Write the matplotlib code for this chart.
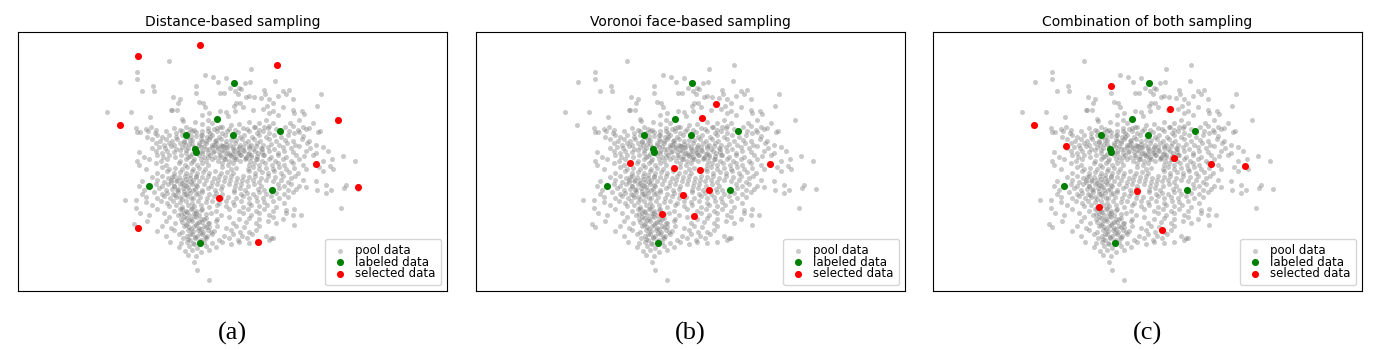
import matplotlib
matplotlib.use("Agg")
import matplotlib.pyplot as plt

# ---- data (embedding coordinates) ----
pool_points = [
    (200,3),(445,27),(519,15),(104,37),(52,66),(104,57),(153,77),(120,93),(155,93),(307,46),(332,51),(346,66),
    (282,77),(280,100),(372,53),(416,86),(428,70),(443,67),(516,63),(484,90),(488,103),(525,108),(541,93),
    (560,90),(549,103),(655,103),(572,117),(212,112),(232,116),(352,100),(366,100),(407,103),(430,110),
    (438,107),(455,110),(475,115),(500,117),(384,83),(410,84),(398,93),
    (14,156),(87,155),(49,195),(143,172),(228,130),(225,150),(206,150),(238,176),(242,182),(290,126),(302,130),
    (308,142),(320,160),(300,166),(278,187),(300,192),(316,180),(354,152),(370,157),(376,167),(394,138),
    (412,130),(420,140),(400,130),(396,152),(450,150),(480,148),(492,138),(512,130),(527,165),(541,141),
    (500,160),(511,152),(570,150),(575,160),(598,152),(603,162),(588,180),(562,190),(572,197),(600,200),
    (610,207),(632,190),(643,139),(703,180),(653,213),(490,180),(470,190),(456,200),(485,200),(500,198),
    (510,190),(440,185),(410,192),(385,195),(360,200),(330,190),(345,205),(104,215),(208,149),
    (102,203),(130,208),(145,201),(160,210),(215,204),(232,209),(250,202),(262,207),(275,211),(318,203),
    (335,208),(352,201),(380,206),(398,210),(420,203),(432,208),(455,202),(470,209),(495,204),(520,207),
    (548,201),(585,209),(620,204),
    (112,217),(138,213),(158,219),(190,212),(220,218),(240,214),(258,220),(270,212),(282,217),(300,213),
    (322,219),(345,214),(360,220),(375,212),(405,217),(440,213),(462,219),(480,214),(500,218),(560,213),
    (575,220),(590,215),(645,217),
    (135,230),(165,225),(180,231),(200,226),(222,232),(238,224),(265,229),(295,225),(315,231),(330,226),
    (350,232),(368,224),(412,230),(425,226),(448,231),(470,225),(490,230),(515,226),(535,232),(555,225),
    (600,229),
    (150,238),(172,243),(192,237),(210,242),(225,236),(245,244),(262,239),(300,243),(320,237),(338,242),
    (355,238),(372,244),(385,239),(400,241),(418,236),(435,243),(455,238),(472,242),(498,237),(520,243),
    (548,239),(570,244),(598,238),(620,242),
    (160,250),(185,255),(200,249),(215,254),(232,248),(248,256),(268,251),(290,255),(310,249),(328,254),
    (342,250),(356,256),(370,251),(384,255),(398,249),(412,254),(428,250),(445,255),(462,249),(480,256),
    (505,251),(530,254),(552,249),(578,255),(612,250),(640,254),
    (148,264),(170,260),(188,265),(205,259),(222,266),(240,261),(258,264),(295,260),(312,266),(330,261),
    (348,265),(362,259),(375,264),(390,260),(405,266),(420,261),(440,265),(460,259),(475,264),(495,260),
    (515,266),(540,261),(565,265),(590,259),(622,264),(660,261),
    (110,277),(160,272),(178,278),(195,273),(215,277),(232,271),(250,279),(300,273),(318,278),(335,272),
    (350,277),(365,273),(380,279),(395,272),(410,277),(425,273),(440,278),(458,272),(478,277),(500,274),
    (525,279),(545,272),(570,277),(610,273),(640,278),(675,272),
    (125,290),(165,285),(182,291),(200,286),(218,290),(235,284),(262,289),(290,285),(305,291),(322,286),
    (338,290),(352,284),(368,289),(382,285),(398,291),(412,286),(430,290),(445,284),(462,289),(485,285),
    (505,291),(525,286),(550,290),(580,285),(605,289),(630,286),(720,288),
    (105,302),(140,297),(175,303),(195,298),(232,302),(250,297),(272,303),(295,298),(312,302),(328,297),
    (348,303),(365,298),(380,302),(395,297),(412,303),(428,298),(442,302),(460,297),(478,303),(498,298),
    (518,302),(540,297),(565,303),(590,298),(660,302),(688,298),
    (110,314),(160,309),(190,315),(230,310),(248,314),(265,309),(285,315),(300,310),(318,314),(360,309),
    (378,315),(392,310),(438,314),(455,309),(470,315),(488,310),(508,314),(525,309),(545,315),(570,310),
    (600,314),(682,317),(757,304),
    (130,327),(180,322),(200,328),(218,323),(238,327),(255,322),(272,328),(290,323),(308,327),(360,322),
    (385,328),(400,323),(435,327),(452,322),(470,328),(490,323),(510,327),(530,322),(550,328),(575,323),
    (610,327),(650,322),(690,328),
    (165,339),(195,334),(215,340),(232,335),(250,339),(268,334),(285,340),(302,335),(320,339),(338,334),
    (355,340),(375,335),(392,339),(440,334),(458,340),(478,335),(495,339),(515,334),(535,340),(560,335),
    (585,339),(660,334),
    (150,352),(180,347),(198,353),(215,348),(230,352),(248,347),(262,353),(280,348),(298,352),(318,347),
    (335,353),(350,348),(368,352),(385,347),(402,353),(420,348),(440,352),(458,347),(475,353),(495,348),
    (518,352),(540,347),(565,353),(578,348),
    (120,364),(165,359),(185,365),(205,360),(222,364),(238,359),(255,365),(272,360),(290,364),(310,359),
    (330,365),(348,360),(365,364),(382,359),(400,365),(418,360),(432,364),(450,359),(470,365),(490,360),
    (512,364),(535,359),(555,365),(600,360),(640,364),
    (110,377),(160,372),(178,378),(198,373),(215,377),(232,372),(250,378),(268,373),(285,377),(305,372),
    (325,378),(345,373),(360,377),(380,372),(398,378),(415,373),(435,377),(455,372),(475,378),(525,373),
    (545,377),(565,372),(590,378),(609,380),(669,375),(729,375),(724,385),
    (125,390),(170,385),(190,391),(208,386),(225,390),(242,385),(260,391),(278,386),(298,390),(318,385),
    (338,391),(355,386),(395,390),(412,385),(428,391),(465,386),(485,390),(530,385),(555,391),(580,386),
    (644,390),(684,390),(765,388),
    (118,402),(155,397),(178,403),(195,398),(212,402),(228,397),(245,403),(262,398),(280,402),(300,397),
    (320,403),(340,398),(358,402),(395,397),(415,403),(432,398),(450,402),(470,397),(490,403),(520,398),
    (545,402),(570,397),(669,400),
    (68,419),(101,419),(130,410),(165,415),(185,409),(202,414),(220,410),(238,416),(255,409),(272,414),
    (292,410),(315,415),(335,409),(355,414),(378,410),(400,415),(420,409),(440,414),(460,410),(480,415),
    (505,409),(530,414),(555,410),
    (130,427),(175,422),(195,428),(212,423),(232,427),(250,422),(268,428),(288,423),(310,427),(330,422),
    (350,428),(372,423),(392,427),(415,422),(438,428),(462,423),(485,427),(510,422),(545,428),
    (101,443),(150,434),(200,439),(220,435),(240,440),(258,434),(275,439),(295,435),(320,440),(345,434),
    (370,439),(395,435),(420,440),(445,434),(468,439),(492,435),(520,440),(715,445),
    (112,458),(165,447),(215,452),(232,448),(250,453),(265,447),(282,452),(300,448),(340,453),(380,447),
    (410,452),(435,448),(460,453),(485,447),(510,452),(549,450),(575,448),
    (140,464),(185,459),(228,465),(245,460),(260,464),(275,459),(290,465),(325,460),(355,464),(420,459),
    (445,465),(470,460),(500,464),(550,459),(570,465),(594,465),
    (134,483),(200,472),(235,478),(250,473),(265,477),(280,472),(295,478),(312,473),(345,477),(380,472),
    (410,478),(440,473),(470,477),(510,472),(540,478),
    (96,493),(190,484),(218,490),(240,485),(255,489),(270,484),(285,490),(300,485),(318,489),(340,484),
    (390,490),(430,485),(460,489),(495,484),(520,490),(574,495),
    (105,502),(180,497),(205,503),(245,498),(260,502),(275,497),(290,503),(305,498),(320,502),(345,497),
    (370,503),(400,498),(425,502),(470,497),
    (165,514),(215,509),(240,515),(258,510),(272,514),(288,509),(302,515),(318,510),(335,514),(385,509),
    (412,515),(439,515),(460,510),
    (190,527),(230,522),(255,528),(270,523),(285,527),(300,522),(315,528),(330,523),(365,527),(390,522),
    (418,528),(448,523),(491,527),(506,533),
    (202,547),(242,535),(262,540),(278,534),(295,539),(312,535),(350,540),(380,534),(405,539),(432,535),
    (500,540),(512,534),
    (235,550),(255,545),(275,551),(305,546),(330,550),(360,545),(385,551),(410,546),(440,550),(470,545),
    (230,562),(260,558),(285,563),(310,559),(340,562),(248,574),(270,570),(295,575),(320,571),(257,585),
    (280,588),(274,605),(285,631),(319,660),
    # denser cores
    (255,232),(268,240),(282,228),(296,236),(310,244),(324,232),(260,252),(275,260),(290,248),(305,258),
    (320,266),(335,254),(252,270),(268,282),(285,272),(300,280),(316,290),(332,276),(258,292),(275,298),
    (245,245),(340,240),(300,226),(318,212),
    (345,262),(360,270),(375,280),(390,268),(405,278),(420,270),(435,282),(450,268),(465,278),(480,286),
    (352,290),(368,296),(385,288),(400,296),(415,286),(430,294),(446,292),(462,296),(478,268),(358,258),
    (372,262),(392,282),(410,262),(440,258),
    (210,352),(224,360),(238,368),(252,356),(266,366),(280,374),(214,378),(228,386),(244,394),(258,382),
    (272,390),(288,398),(218,404),(234,410),(250,402),(266,414),(206,366),(246,376),(262,346),(282,352),
    (240,446),(254,456),(268,444),(282,460),(296,450),(312,462),(246,470),(260,480),(274,468),(290,486),
    (304,476),(320,490),(252,496),(266,506),(282,494),(296,508),(310,500),(326,516),(262,522),(278,530),
    (294,518),(308,532),(272,548),(290,544),(256,538),(236,462),
]
pool_x = [p[0] for p in pool_points]
pool_y = [p[1] for p in pool_points]

labeled_x = [395, 343, 252, 390, 533, 279, 282, 140, 508, 292]
labeled_y = [68, 178, 224, 225, 213, 268, 276, 379, 390, 549]

sel_a_x = [107, 292, 52, 522, 706, 639, 766, 467, 107, 349]
sel_a_y = [-11, -46, 195, 15, 179, 311, 381, 547, 503, 415]

sel_b_x = [466, 424, 208, 340, 417, 628, 444, 369, 306, 401]
sel_b_y = [133, 175, 308, 324, 330, 313, 390, 404, 462, 469]

sel_c_x = [282, 457, 50, 145, 470, 579, 681, 359, 245, 433]
sel_c_y = [77, 148, 195, 257, 295, 311, 318, 394, 440, 511]

titles = ["Distance-based sampling", "Voronoi face-based sampling", "Combination of both sampling"]
captions = ["(a)", "(b)", "(c)"]
selected = [(sel_a_x, sel_a_y), (sel_b_x, sel_b_y), (sel_c_x, sel_c_y)]

# ---- figure ----
W, H = 1376, 350
fig = plt.figure(figsize=(W / 100, H / 100), dpi=100)
lefts = [18, 476, 933]
ax_w, ax_top, ax_bot = 429, 32, 291

for i in range(3):
    ax = fig.add_axes([lefts[i] / W, 1 - ax_bot / H, ax_w / W, (ax_bot - ax_top) / H])
    ax.scatter(pool_x, pool_y, s=13, c="gray", alpha=0.42, linewidths=0, label="pool data")
    ax.scatter(labeled_x, labeled_y, s=26, c="green", linewidths=0, label="labeled data")
    sx, sy = selected[i]
    ax.scatter(sx, sy, s=26, c="red", linewidths=0, label="selected data")
    ax.set_xlim(-252, 1032)
    ax.set_ylim(693, -84)
    ax.set_xticks([])
    ax.set_yticks([])
    for sp in ax.spines.values():
        sp.set_linewidth(0.8)
        sp.set_color("black")
    ax.set_title(titles[i], fontsize=10, pad=4)
    ax.legend(loc="lower right", fontsize=8.5, labelspacing=-0.15, handletextpad=0.5,
              borderpad=0.45, handlelength=1.6, borderaxespad=0.5)
    cx = (lefts[i] + ax_w / 2) / W
    fig.text(cx, 1 - 333 / H, captions[i], ha="center", va="center", fontsize=19,
             family="Liberation Serif")

fig.savefig("out.png", dpi=100)
